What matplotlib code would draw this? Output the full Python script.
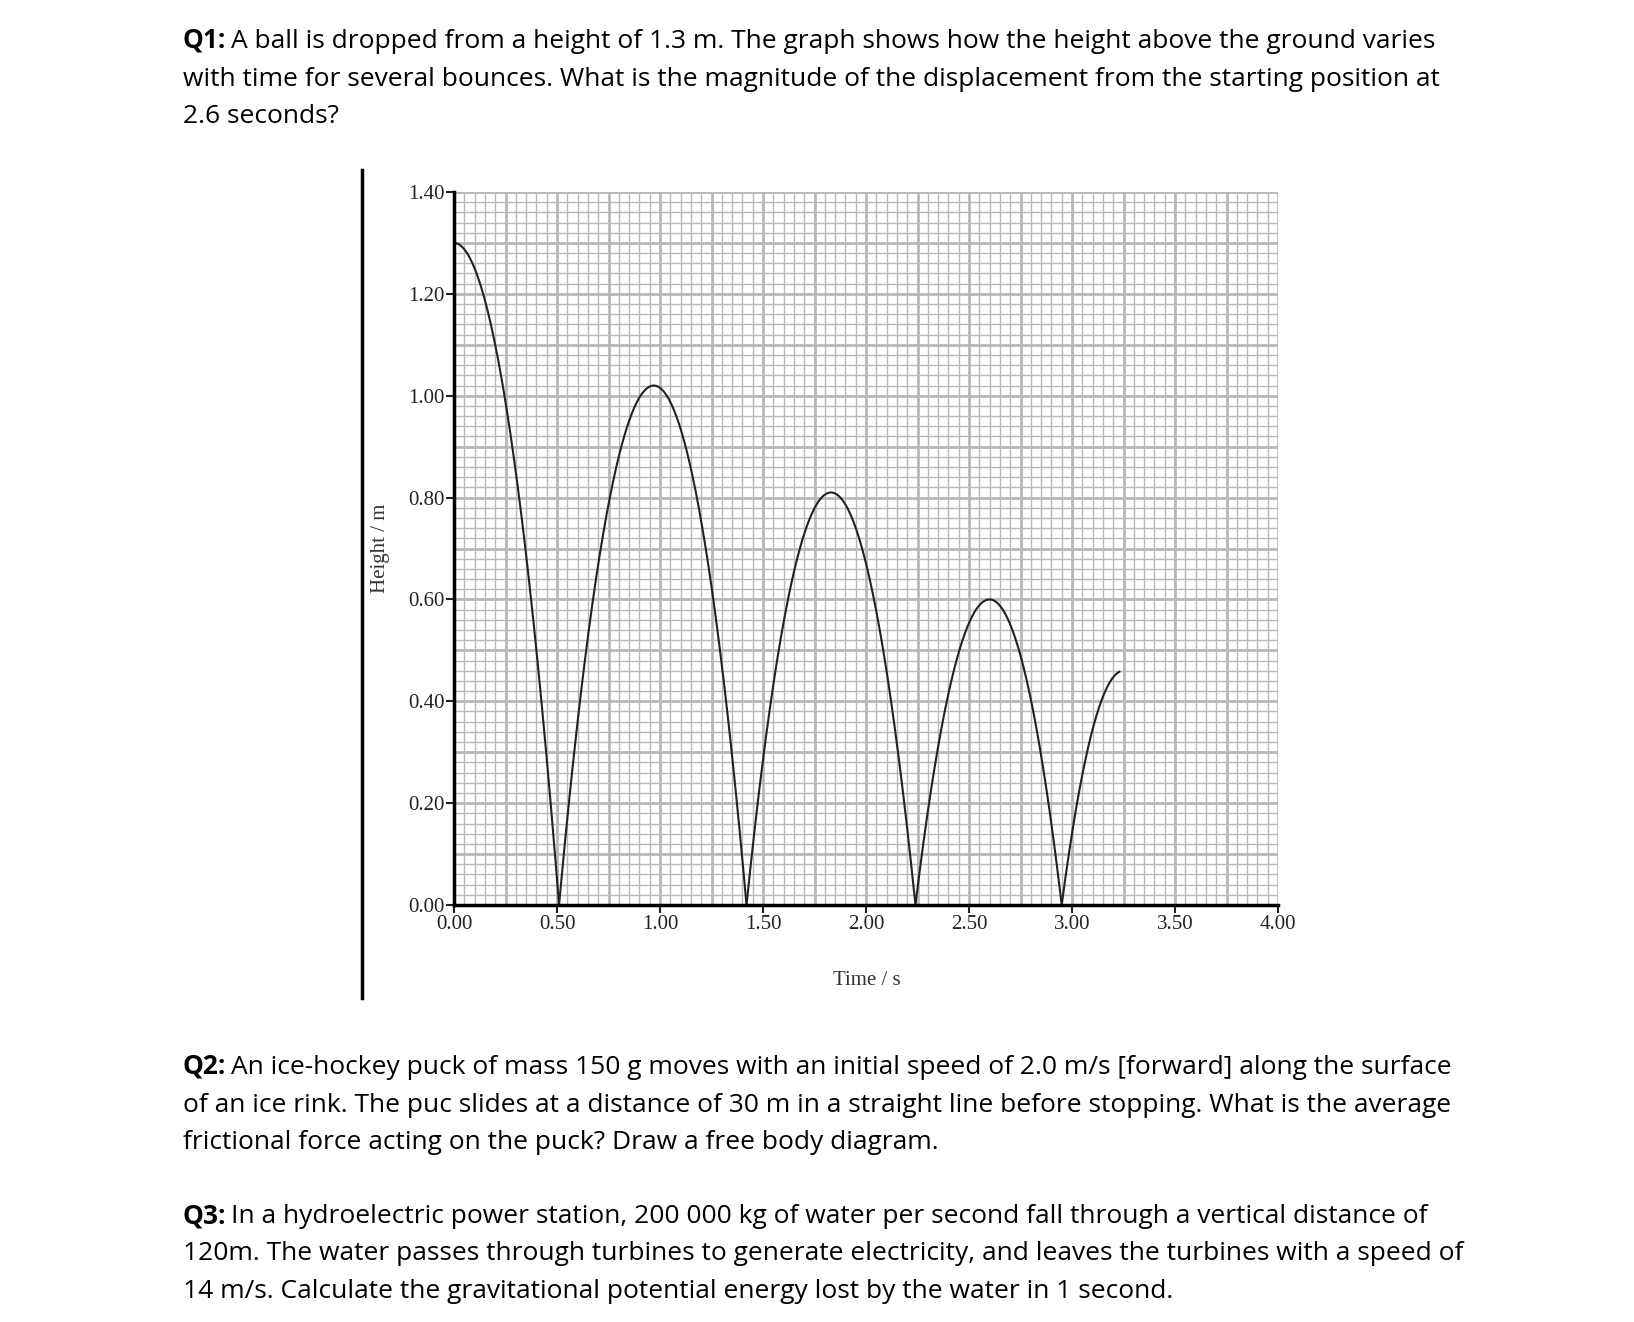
import numpy as np
import matplotlib
matplotlib.use("Agg")
import matplotlib.pyplot as plt
from matplotlib.lines import Line2D

# data
ground_times = [0.51, 1.42, 2.24, 2.95]
peak_times = [0.0, 0.97, 1.83, 2.60, 3.25]
peak_heights = [1.30, 1.02, 0.81, 0.60, 0.46]
end_time = 3.23
xticks = [0.0, 0.5, 1.0, 1.5, 2.0, 2.5, 3.0, 3.5, 4.0]
yticks = [0.0, 0.2, 0.4, 0.6, 0.8, 1.0, 1.2, 1.4]

W, H = 1634, 1322
fig = plt.figure(figsize=(W/100, H/100), dpi=100)
ax = fig.add_axes([454/W, 1-905/H, (1278-454)/W, (905-192)/H])
ax.set_xlim(0, 4)
ax.set_ylim(0, 1.4)
for x in np.arange(0, 4.0001, 0.05):
    major = abs(x/0.25 - round(x/0.25)) < 1e-6
    ax.axvline(x, color='#b8b8b8', lw=2.0 if major else 1.0, zorder=0)
for y in np.arange(0, 1.4001, 0.02):
    major = abs(y/0.1 - round(y/0.1)) < 1e-6
    ax.axhline(y, color='#b8b8b8', lw=2.0 if major else 1.0, zorder=0)

# curve: parabolic arcs between ground contacts
bounds = [0.0] + ground_times + [end_time]
for i in range(len(bounds)-1):
    t0, t1 = bounds[i], bounds[i+1]
    tp, hp = peak_times[i], peak_heights[i]
    left = ground_times[i-1] if i > 0 else None
    right = ground_times[i] if i < len(ground_times) else None
    a_l = hp/(tp-left)**2 if left is not None else None
    a_r = hp/(right-tp)**2 if right is not None else a_l
    if a_l is None:
        a_l = a_r
    t = np.linspace(t0, t1, 300)
    h = np.where(t < tp, hp - a_l*(t-tp)**2, hp - a_r*(t-tp)**2)
    ax.plot(t, np.clip(h, 0, None), color='#222222', lw=1.5, zorder=3)

for s in ['top', 'right']:
    ax.spines[s].set_visible(False)
for s in ['left', 'bottom']:
    ax.spines[s].set_linewidth(2.5)
    ax.spines[s].set_zorder(4)
ax.set_xticks(xticks)
ax.set_yticks(yticks)
ax.set_xticklabels([f"{v:.2f}" for v in xticks])
ax.set_yticklabels([f"{v:.2f}" for v in yticks])
ax.tick_params(length=6, width=1.5, labelsize=15, pad=1, colors='#222222')
for lbl in ax.get_xticklabels() + ax.get_yticklabels():
    lbl.set_family('Liberation Serif')

fig.text(867/W, 1-985/H, "Time / s", family='Liberation Serif', fontsize=15, ha='center', color='#333333')
fig.text(381/W, 1-548/H, "Height / m", family='Liberation Serif', fontsize=15, rotation=90,
         ha='center', va='center', color='#333333')
fig.add_artist(Line2D([362/W, 362/W], [1-170/H, 1-998/H], color='black', lw=2.5))

fs = 19
fam = 'Open Sans'
r = fig.canvas.get_renderer()
def para(x, y, label, lines):
    t = fig.text(x/W, 1-y/H, label, fontsize=fs, family=fam, weight='bold', va='baseline')
    bb = t.get_window_extent(renderer=r)
    fig.text(bb.x1/W + 0.003, 1-y/H, lines[0], fontsize=fs, family=fam, va='baseline')
    for k, ln in enumerate(lines[1:], 1):
        fig.text(x/W, 1-(y+37.5*k)/H, ln, fontsize=fs, family=fam, va='baseline')

para(183, 48, "Q1:", ["A ball is dropped from a height of 1.3 m. The graph shows how the height above the ground varies",
                      "with time for several bounces. What is the magnitude of the displacement from the starting position at",
                      "2.6 seconds?"])
para(183, 1074, "Q2:", ["An ice-hockey puck of mass 150 g moves with an initial speed of 2.0 m/s [forward] along the surface",
                        "of an ice rink. The puc slides at a distance of 30 m in a straight line before stopping. What is the average",
                        "frictional force acting on the puck? Draw a free body diagram."])
para(183, 1223, "Q3:", ["In a hydroelectric power station, 200 000 kg of water per second fall through a vertical distance of",
                        "120m. The water passes through turbines to generate electricity, and leaves the turbines with a speed of",
                        "14 m/s. Calculate the gravitational potential energy lost by the water in 1 second."])
fig.savefig("out.png", dpi=100)
